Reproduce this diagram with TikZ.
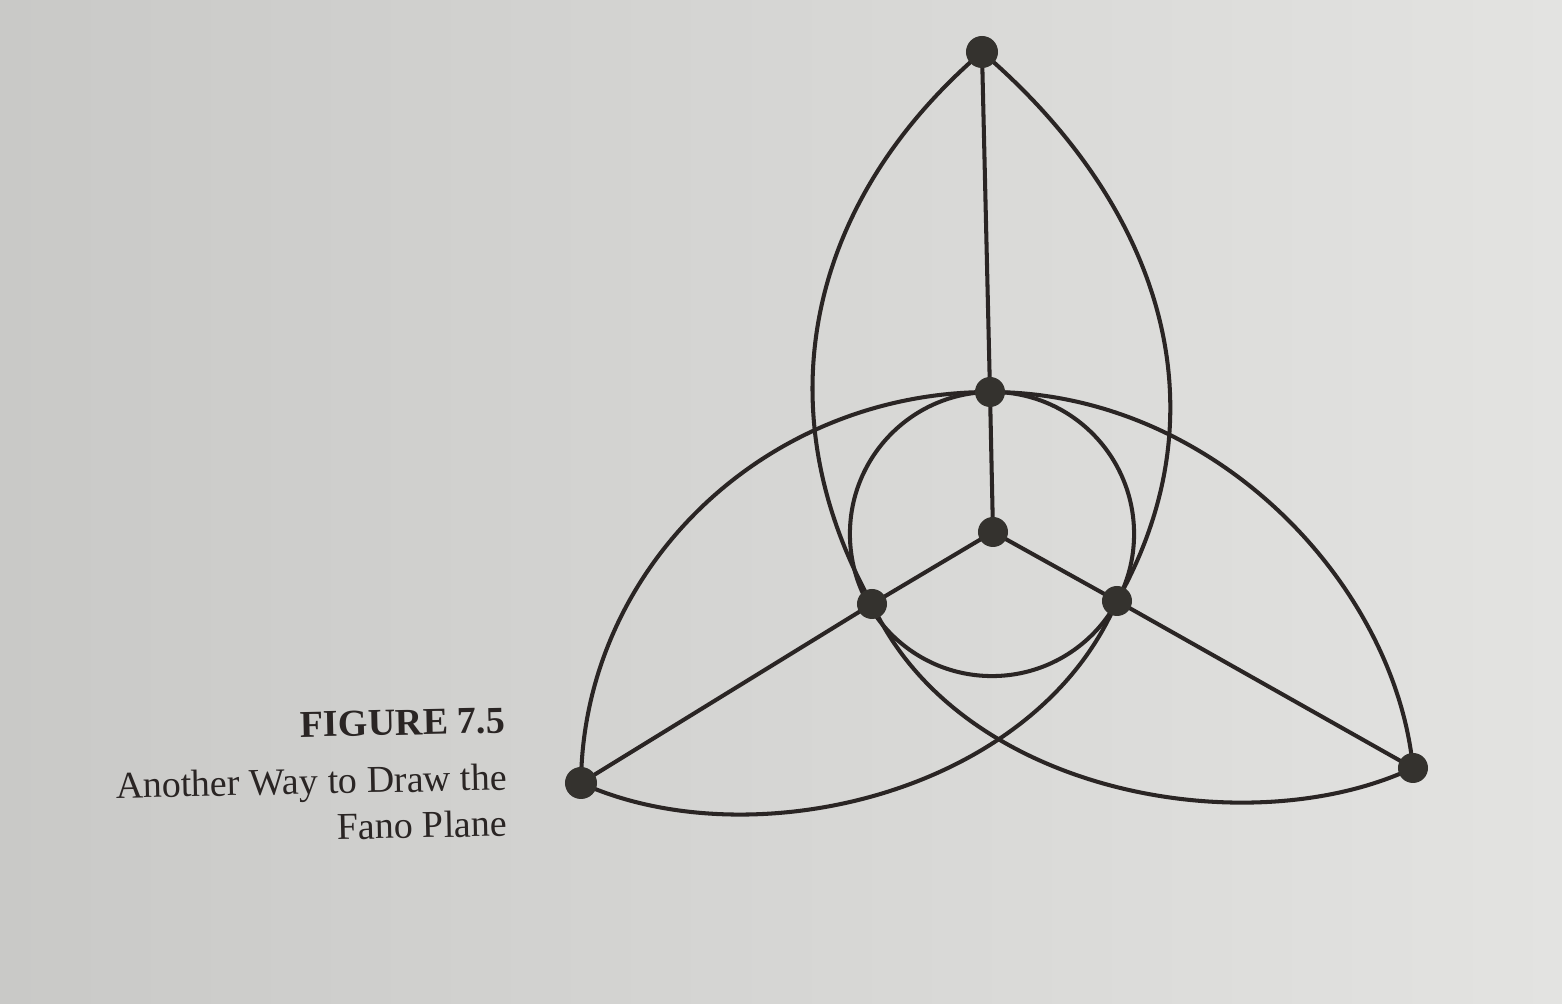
\documentclass[tikz,border=0pt]{standalone}
\usepackage{fontspec}
\setmainfont{Liberation Serif}
\begin{document}
\begin{tikzpicture}[x=0.01cm,y=-0.01cm,
  line/.style={draw=inkc,line width=1.15pt,line cap=round},
  dot/.style={circle,fill=dotc,inner sep=0pt,minimum size=0.30cm},
  captext/.style={anchor=base east,rotate=1.2,text=inkc,inner sep=0pt,font=\fontsize{10.8pt}{13pt}\selectfont}]
\definecolor{inkc}{HTML}{2A2524}
\definecolor{dotc}{HTML}{34322E}
\definecolor{paperL}{HTML}{C9C9C7}
\definecolor{paperR}{HTML}{E3E3E1}
\useasboundingbox (0,0) rectangle (1562,1004);
\shade[left color=paperL,right color=paperR] (0,0) rectangle (1562,1004);
% points
\coordinate (Tp) at (982,52);
\coordinate (Mp) at (990,392);
\coordinate (Cp) at (993,532);
\coordinate (Lp) at (872,604);
\coordinate (Rp) at (1117,601);
\coordinate (BLp) at (581,783);
\coordinate (BRp) at (1413,768);
% straight lines
\draw[line] (Tp) -- (Mp) -- (Cp);
\draw[line] (Cp) -- (Lp) -- (BLp);
\draw[line] (Cp) -- (Rp) -- (BRp);
% circle
\draw[line] (992,534) circle[radius=1.42cm];
% curve T-L-BR
\draw[line] (Tp) .. controls (815,195) and (758,400) .. (Lp)
  .. controls (960,795) and (1250,845) .. (BRp);
% curve T-R-BL
\draw[line] (Tp) .. controls (1149,195) and (1232,397) .. (Rp)
  .. controls (1035,795) and (750,860) .. (BLp);
% big arc BL-M-BR
\draw[line] (BLp) .. controls (583,568) and (765,392) .. (Mp)
  .. controls (1215,392) and (1395,585) .. (BRp);
% dots
\node[dot,minimum size=0.32cm] (T) at (Tp) {};
\node[dot] (M) at (Mp) {};
\node[dot] (C) at (Cp) {};
\node[dot] (L) at (Lp) {};
\node[dot] (R) at (Rp) {};
\node[dot,minimum size=0.32cm] (BL) at (BLp) {};
\node[dot] (BR) at (BRp) {};
% caption
\node[captext,font=\fontsize{10.8pt}{13pt}\selectfont\bfseries] (fig) at (506,733) {FIGURE 7.5};
\node[captext] (cap1) at (508,790) {Another Way to Draw the};
\node[captext] (cap2) at (508,836) {Fano Plane};
\end{tikzpicture}
\end{document}
